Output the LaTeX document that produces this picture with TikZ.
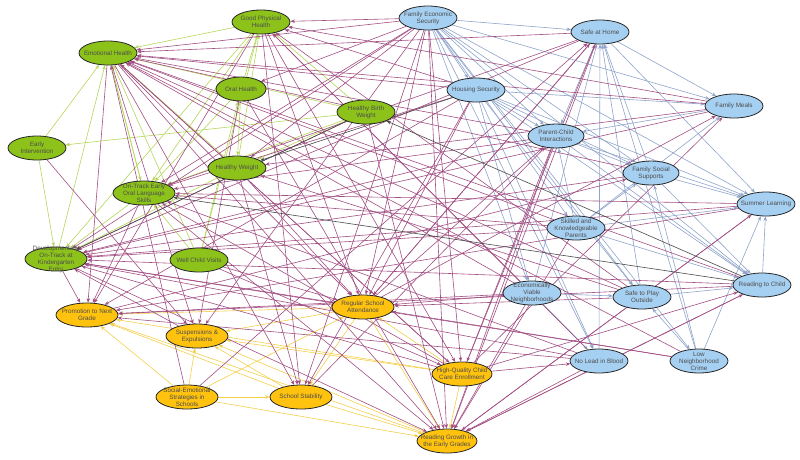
\documentclass[tikz,border=0pt]{standalone}
\usepackage{fontspec}
\setmainfont{Liberation Sans}
\usetikzlibrary{shapes.geometric,arrows.meta,backgrounds}
\definecolor{gfill}{HTML}{8CC21A}
\definecolor{yfill}{HTML}{FFC20E}
\definecolor{bfill}{HTML}{A6D0F2}
\definecolor{gline}{HTML}{B5D65A}
\definecolor{yline}{HTML}{F3CF4A}
\definecolor{bline}{HTML}{8FA3CB}
\definecolor{pline}{HTML}{A14E82}
\definecolor{dline}{HTML}{4A4A4A}
\tikzset{
 nd/.style={ellipse,draw=black!85,line width=0.8pt,minimum width=58pt,minimum height=24pt,inner sep=0pt},
 txt/.style={label={[align=center,font=\fontsize{6.3}{7}\selectfont,text=black!70,inner sep=0pt]center:#1}},
 gn/.style={nd,fill=gfill,txt={#1}},
 yn/.style={nd,fill=yfill,txt={#1}},
 bn/.style={nd,fill=bfill,txt={#1}},
 e/.style={-{Stealth[length=4.5pt,width=3.5pt]},line width=0.6pt},
 ge/.style={e,gline},
 ye/.style={e,yline},
 be/.style={e,bline},
 pe/.style={e,pline},
 de/.style={e,dline},
}
\begin{document}
\begin{tikzpicture}[x=1pt,y=-1pt]
\useasboundingbox (0,0) rectangle (800,459);
% green
\node[gn={Good Physical\\Health}] (gph) at (261,22) {};
\node[gn={Emotional Health}] (emo) at (108,53) {};
\node[gn={Oral Health},minimum width=50pt] (ora) at (241,89) {};
\node[gn={Healthy Birth\\Weight}] (hbw) at (366,112) {};
\node[gn={Early\\Intervention}] (ei) at (37,148) {};
\node[gn={Healthy Weight}] (hw) at (237,168) {};
\node[gn={On-Track Early\\Oral Language\\Skills},minimum width=62pt] (ol) at (144,193) {};
\node[gn={Developmentally\\On-Track at\\Kindergarten\\Entry},minimum width=62pt] (dev) at (56,259) {};
\node[gn={Well Child Visits}] (wcv) at (199,260) {};
% yellow
\node[yn={Promotion to Next\\Grade},minimum width=62pt] (prom) at (87,315) {};
\node[yn={Regular School\\Attendance},minimum width=62pt] (rsa) at (363,307) {};
\node[yn={Suspensions \&\\Expulsions},minimum width=62pt] (susp) at (197,336) {};
\node[yn={Social-Emotional\\Strategies in\\Schools},minimum width=62pt] (ses) at (187,397) {};
\node[yn={School Stability},minimum width=62pt] (ss) at (301,397) {};
\node[yn={High-Quality Child\\Care Enrollment},minimum width=60pt] (hq) at (462,374) {};
\node[yn={Reading Growth in\\the Early Grades},minimum width=60pt] (rg) at (447,441) {};
% blue
\node[bn={Family Economic\\Security}] (fes) at (428,18) {};
\node[bn={Safe at Home}] (sah) at (600,32) {};
\node[bn={Housing Security}] (hs) at (476,90) {};
\node[bn={Family Meals}] (fm) at (734,106) {};
\node[bn={Parent-Child\\Interactions},minimum width=56pt] (pci) at (556,136) {};
\node[bn={Family Social\\Supports},minimum width=56pt] (fss) at (651,173) {};
\node[bn={Summer Learning}] (sl) at (766,204) {};
\node[bn={Skilled and\\Knowledgeable\\Parents}] (skp) at (576,228) {};
\node[bn={Reading to Child}] (rtc) at (762,285) {};
\node[bn={Economically\\Viable\\Neighborhoods}] (evn) at (532,293) {};
\node[bn={Safe to Play\\Outside}] (spo) at (642,297) {};
\node[bn={No Lead in Blood}] (nlb) at (599,361) {};
\node[bn={Low\\Neighborhood\\Crime}] (lnc) at (699,361) {};
\begin{scope}[on background layer]
\foreach \a/\b in {hbw/gph,hbw/emo,ora/gph,ei/emo,ol/emo,dev/emo,ei/dev,wcv/gph,wcv/ora,hw/gph,hw/emo,hbw/hw,hbw/ol,ora/ol,wcv/ol,gph/emo,ora/hw,hbw/ei,ol/dev,hw/dev,gph/dev,emo/ol,wcv/emo,gph/ol}
  \draw[ge] (\a) -- (\b);
\foreach \a/\b in {ses/prom,ses/susp,ses/ss,ses/rg,ss/prom,ss/rg,rsa/prom,rsa/susp,rsa/ss,rsa/rg,hq/rg,hq/prom,hq/susp,ss/susp,rg/prom,hq/rsa,rg/susp,ses/rsa}
  \draw[ye] (\a) -- (\b);
\foreach \a/\b in {fes/sah,fes/hs,fes/fm,fes/pci,fes/fss,fes/sl,fes/rtc,fes/skp,fes/nlb,fes/spo,hs/fm,hs/pci,hs/fss,hs/sl,hs/nlb,hs/spo,sah/fm,sah/pci,sah/sl,pci/fss,pci/sl,pci/rtc,fss/sl,fss/rtc,skp/pci,skp/sl,skp/rtc,skp/fss,evn/spo,evn/nlb,lnc/spo,lnc/sah,lnc/fss,rtc/sl,evn/sah,fm/pci,skp/fm,spo/sah,fes/evn,hs/evn,lnc/sl,spo/rtc,fss/sah,nlb/sah,hs/rtc,fes/lnc}
  \draw[be] (\a) -- (\b);
\foreach \a/\b in {fes/gph,fes/emo,fes/ol,fes/dev,fes/rsa,fes/hq,fes/rg,fes/ss,fes/hw,fes/ora,sah/emo,sah/ol,sah/rsa,sah/rg,hs/emo,hs/rsa,hs/ss,hs/ol,hs/gph,pci/ol,pci/dev,pci/emo,pci/rg,fss/emo,fss/dev,skp/ol,skp/dev,skp/emo,rtc/dev,rtc/rg,rtc/prom,sl/rg,sl/dev,sl/prom,nlb/dev,nlb/rg,nlb/ol,evn/rsa,evn/rg,evn/gph,spo/gph,spo/hw,fm/hw,fm/emo,fm/gph,lnc/emo,emo/rsa,emo/susp,emo/prom,emo/rg,gph/rsa,gph/ss,dev/prom,dev/rg,dev/rsa,ol/rg,hw/rsa,wcv/rsa,ei/susp,hq/dev,hq/ol,hq/emo,hq/sah,rsa/fm,rg/rtc,ss/pci,ses/emo,susp/dev,ol/prom,hw/ss,gph/hq,emo/hq,ora/rg,hbw/rg,hbw/dev,hq/nlb,hq/rtc,rsa/pci,rsa/sah,rg/sl,prom/fss,hq/fm,wcv/hq,emo/ss,ora/susp,gph/prom,lnc/dev,spo/emo,evn/prom,fes/susp,hs/prom,sah/dev,pci/hq,skp/rg,rtc/emo,nlb/gph,sl/ol,fm/dev,lnc/rsa,nlb/prom,spo/rsa,evn/emo,ses/sah}
  \draw[pe] (\a) -- (\b);
\foreach \a/\b in {rtc/ol,rtc/hbw,hs/hw,hbw/dev}
  \draw[de] (\a) -- (\b);
\end{scope}
\end{tikzpicture}
\end{document}
